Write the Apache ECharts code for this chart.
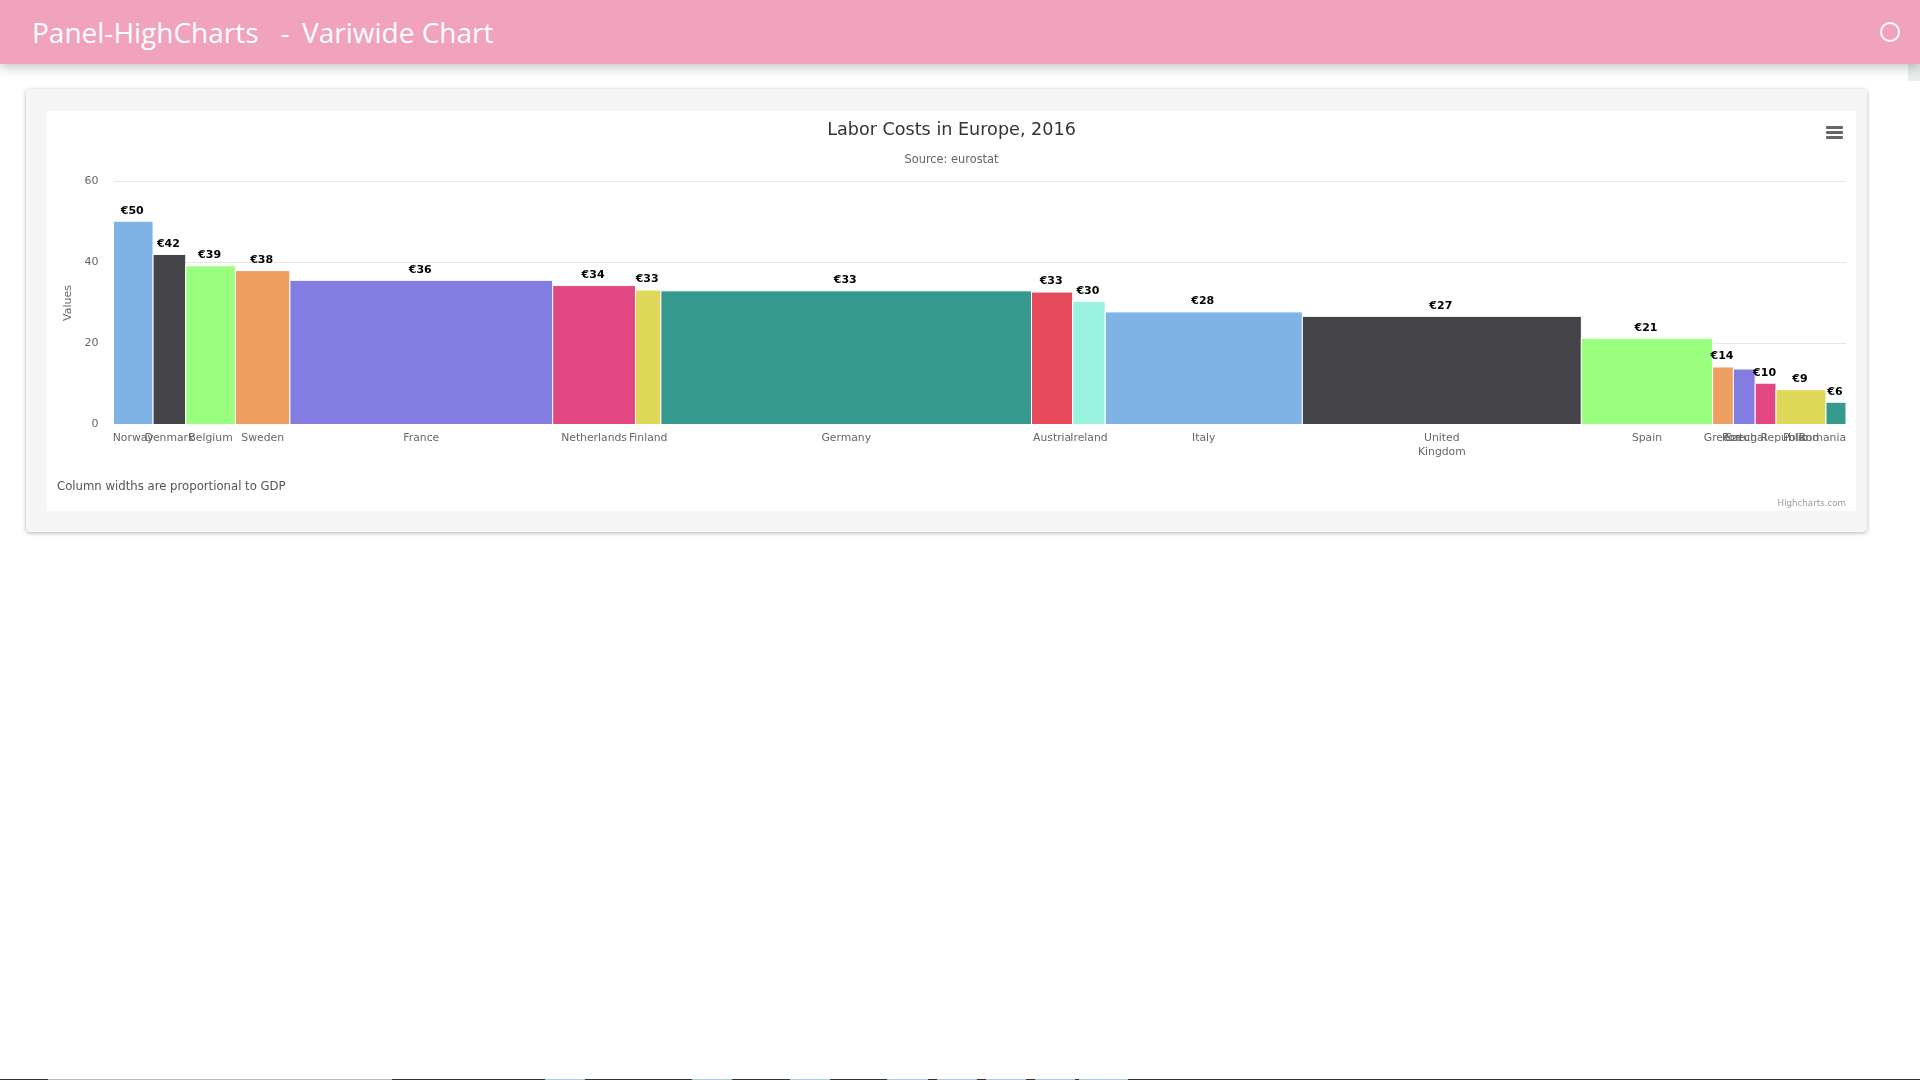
<!DOCTYPE html>
<html>
<head>
<meta charset="utf-8">
<title>Panel-HighCharts - Variwide Chart</title>
<script src="https://cdn.jsdelivr.net/npm/echarts@6/dist/echarts.min.js"></script>
<style>
html, body { margin: 0; padding: 0; width: 1920px; height: 1080px; overflow: hidden; background: #fff; }
#header {
    position: absolute; left: 0; top: 0; width: 1920px; height: 64px; background: #f1a2bc;
    box-shadow: 0 4px 10px rgba(0,0,0,0.22); color: #fff; z-index: 2;
    font-family: "Open Sans", sans-serif; font-size: 28px; line-height: 65px; white-space: pre;
}
#header span { position: absolute; left: 32px; }
#header b { font-weight: normal; margin-left: -2px; }
#circle { position: absolute; left: 1880px; top: 22px; width: 16px; height: 16px; border: 2.5px solid #fff; border-radius: 50%; }
#corner { position: absolute; left: 1908px; top: 64px; width: 12px; height: 17px; background: #e9edee; }
#card {
    position: absolute; left: 26px; top: 89px; width: 1841px; height: 443px; background: #f5f5f5;
    border-radius: 4px; box-shadow: 0 1px 4px rgba(0,0,0,0.3);
}
#main { position: absolute; left: 47px; top: 111px; width: 1809px; height: 400px; background: #fff; }
#strip { position: absolute; left: 0; top: 1079px; width: 1920px; height: 1px; background: #333; }
#strip i { position: absolute; top: 0; height: 1px; background: #a9cde0; }
</style>
</head>
<body>
<div id="header"><span>Panel-HighCharts   -  <b>Variwide Chart</b></span><div id="circle"></div></div>
<div id="corner"></div>
<div id="card"></div>
<div id="main"></div>
<div id="strip">
    <i style="left:48px;width:344px;background:#bbb"></i>
    <i style="left:545px;width:40px"></i>
    <i style="left:692px;width:40px"></i>
    <i style="left:790px;width:40px"></i>
    <i style="left:887px;width:41px"></i>
    <i style="left:937px;width:40px"></i>
    <i style="left:986px;width:40px"></i>
    <i style="left:1035px;width:40px"></i>
    <i style="left:1079px;width:49px"></i>
</div>
<script>
var countries = ['Norway', 'Denmark', 'Belgium', 'Sweden', 'France', 'Netherlands', 'Finland', 'Germany', 'Austria', 'Ireland', 'Italy', 'United\nKingdom', 'Spain', 'Greece', 'Portugal', 'Czech Republic', 'Poland', 'Romania']
var laborCost = [50.2, 42, 39.2, 38, 35.6, 34.3, 33.2, 33, 32.7, 30.4, 27.8, 26.7, 21.3, 14.2, 13.7, 10.2, 8.6, 5.5]
var gdp = [335504, 277339, 421611, 462057, 2228857, 702641, 215615, 3144050, 349344, 275567, 1672438, 2366911, 1113851, 175887, 184933, 176564, 424269, 169578]
// Portugal's label is dropped in the picture (overlap)
var hiddenLabels = ['Portugal']
var yTicks = [0, 20, 40, 60]
var myColor = ['#7fb3e6', '#434348', '#9bff80', '#ee9e5f', '#847de1', '#e34781', '#e0d858', '#35998e', '#e74a5c', '#9af3e0']

// 累计GDP得到每根柱子的起止位置
var rows = []
var total = 0
for (var i = 0; i < countries.length; i++) {
    rows.push([total, total + gdp[i], laborCost[i], i])
    total += gdp[i]
}

var myChart = echarts.init(document.querySelector('#main'))
var fontName = '"DejaVu Sans", sans-serif'

var option = {
    animation: false,
    textStyle: { fontFamily: fontName },
    title: {
        text: 'Labor Costs in Europe, 2016',
        subtext: 'Source: eurostat',
        left: 'center',
        top: 5,
        itemGap: 16,
        textStyle: { color: '#333', fontSize: 17.6, fontWeight: 'normal', fontFamily: fontName },
        subtextStyle: { color: '#666', fontSize: 11.4, fontFamily: fontName }
    },
    grid: { left: 66.5, right: 10, top: 70.5, height: 243 },
    xAxis: {
        type: 'value',
        min: 0,
        max: total,
        axisLine: { show: true, onZero: false, lineStyle: { color: '#ccd6eb' } },
        axisTick: { show: false },
        axisLabel: { show: false },
        splitLine: { show: false }
    },
    yAxis: {
        type: 'value',
        min: yTicks[0],
        max: yTicks[yTicks.length - 1],
        interval: 20,
        name: 'Values',
        nameLocation: 'middle',
        nameGap: 36,
        nameTextStyle: { color: '#666', fontSize: 11 },
        axisLine: { show: false },
        axisTick: { show: false },
        axisLabel: { color: '#666', fontSize: 11, margin: 15 },
        splitLine: { lineStyle: { color: '#e6e6e6' } }
    },
    series: [{
        type: 'custom',
        clip: false,
        data: rows,
        encode: { x: [0, 1], y: 2 },
        renderItem: function (params, api) {
            var start = api.coord([api.value(0), api.value(2)])
            var end = api.coord([api.value(1), 0])
            var idx = api.value(3)
            var name = countries[idx]
            var mid = (start[0] + end[0]) / 2
            // 最后一个标签不能超出绘图区
            var isLast = idx === countries.length - 1
            var children = [{
                type: 'rect',
                shape: { x: start[0], y: start[1], width: end[0] - start[0], height: end[1] - start[1] },
                style: { fill: myColor[idx % myColor.length], stroke: '#fff', lineWidth: 1 }
            }, {
                type: 'text',
                style: {
                    x: isLast ? end[0] : mid, y: end[1] + 7, text: name, align: isLast ? 'right' : 'center', verticalAlign: 'top',
                    fill: '#666', font: '10.8px ' + fontName, lineHeight: 14
                }
            }]
            if (hiddenLabels.indexOf(name) < 0) {
                children.push({
                    type: 'text',
                    style: {
                        x: mid - 1, y: start[1] - 5, text: '€' + Math.round(api.value(2)), align: 'center', verticalAlign: 'bottom',
                        fill: '#000', font: 'bold 11px ' + fontName
                    }
                })
            }
            return { type: 'group', children: children }
        }
    }],
    graphic: [
        { type: 'text', left: 10, top: 370, style: { text: 'Column widths are proportional to GDP', fill: '#555', font: '11.7px ' + fontName } },
        { type: 'text', right: 10, top: 388, style: { text: 'Highcharts.com', fill: '#999', font: '8.7px ' + fontName } },
        { type: 'rect', right: 13, top: 15, shape: { width: 17, height: 3, r: 1 }, style: { fill: '#666' } },
        { type: 'rect', right: 13, top: 20, shape: { width: 17, height: 3, r: 1 }, style: { fill: '#666' } },
        { type: 'rect', right: 13, top: 25, shape: { width: 17, height: 3, r: 1 }, style: { fill: '#666' } }
    ]
}
myChart.setOption(option)
window.addEventListener('resize', function () {
    myChart.resize()
})
</script>
</body>
</html>
